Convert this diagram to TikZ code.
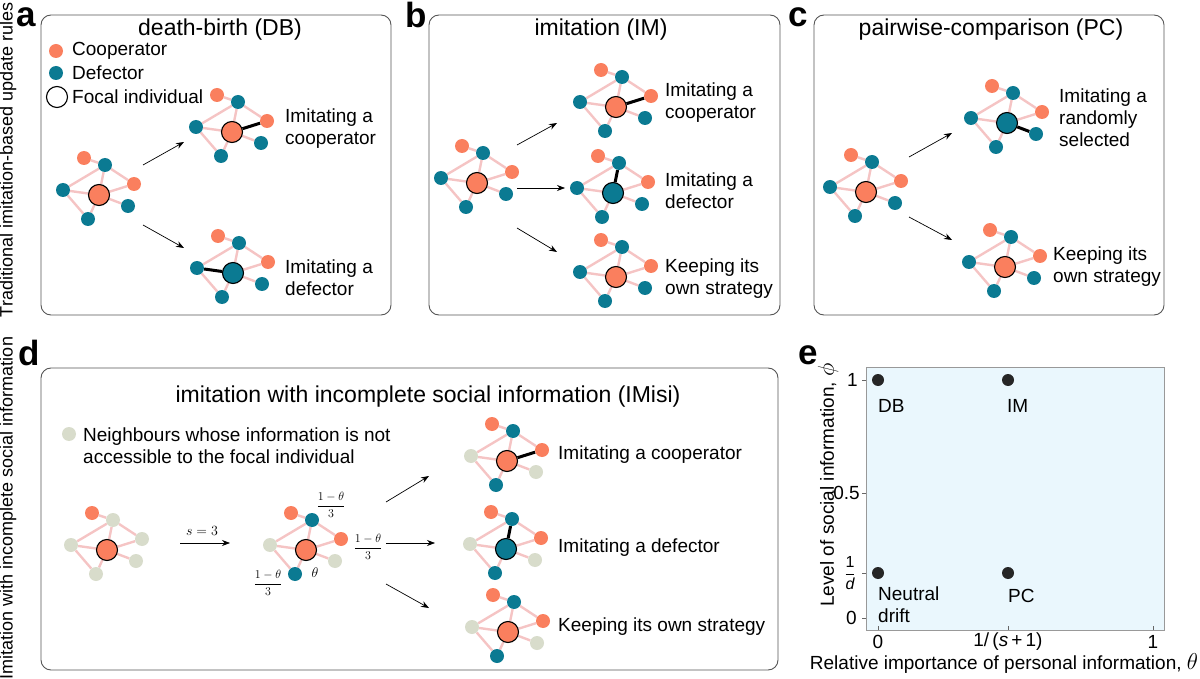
\RequirePackage{fix-cm}
\documentclass[tikz,border=0pt]{standalone}
\usepackage{fontspec}
\setmainfont{Liberation Sans}
\setsansfont{Liberation Sans}
\usetikzlibrary{arrows.meta}
\pgfdeclarelayer{background}
\pgfsetlayers{background,main}
\definecolor{coop}{HTML}{FA7F5E}
\definecolor{defe}{HTML}{0B7A92}
\definecolor{hidn}{HTML}{D8DCCB}
\definecolor{edgec}{HTML}{F5C4C4}
\definecolor{plotbg}{HTML}{EAF7FD}
\definecolor{framec}{HTML}{555555}
\tikzset{
 agent/.style={circle,inner sep=0pt,minimum size=14pt,fill=#1},
 focal/.style={circle,inner sep=0pt,minimum size=21pt,fill=#1,draw=black,line width=1.1pt},
 link/.style={draw=edgec,line width=2.4pt},
 boldlink/.style={draw=black,line width=3pt},
 panel/.style={draw=framec,line width=0.9pt,rounded corners=10pt},
 arr/.style={-{Stealth[length=8pt,width=6pt]},line width=0.7pt},
 lab/.style={font=\fontsize{19}{22}\selectfont,align=left,anchor=west,inner sep=0pt},
 ttl/.style={font=\fontsize{23}{27}\selectfont,inner sep=0pt},
 letter/.style={font=\fontsize{35}{40}\selectfont\bfseries,inner sep=0pt,anchor=base},
 side/.style={font=\fontsize{18}{22}\selectfont,rotate=90,inner sep=0pt},
 frac/.style={font=\fontsize{12}{14}\selectfont,inner sep=0pt},
 dot/.style={circle,inner sep=0pt,minimum size=12pt,fill=black!85},
 tick/.style={draw=black!60,line width=0.6pt},
}
\newcommand{\biggreek}[1]{{\fontsize{23}{23}\selectfont$#1$}}
% #1 prefix, #2 x, #3 y, #4 focal, #5 top, #6 right, #7 left, #8 lower right, #9 bottom
\newcommand{\netw}[9]{%
 \node[focal=#4] (#1f) at (#2,#3) {};
 \node[agent=coop] (#1p) at (#2-15,#3-37) {};
 \node[agent=#5] (#1t) at (#2+6,#3-30) {};
 \node[agent=#6] (#1r) at (#2+35,#3-11) {};
 \node[agent=#7] (#1l) at (#2-36,#3-5) {};
 \node[agent=#8] (#1s) at (#2+29,#3+11) {};
 \node[agent=#9] (#1b) at (#2-11,#3+24) {};
 \begin{pgfonlayer}{background}
 \draw[link] (#1p) -- (#1t);
 \draw[link] (#1t) -- (#1l);
 \draw[link] (#1t) -- (#1f);
 \draw[link] (#1t) -- (#1r);
 \draw[link] (#1l) -- (#1f);
 \draw[link] (#1l) -- (#1b);
 \draw[link] (#1f) -- (#1r);
 \draw[link] (#1f) -- (#1s);
 \draw[link] (#1f) -- (#1b);
 \end{pgfonlayer}}
\begin{document}
\begin{tikzpicture}[x=1pt,y=-1pt]
\useasboundingbox (0,0) rectangle (1200,679);

% side labels
\node[side] (sideA) at (8,160) {Traditional imitation-based update rules};
\node[side] (sideB) at (8,508) {Imitation with incomplete social information};

% panel frames
\draw[panel] (41,15) rectangle (391,315);
\draw[panel] (429,15) rectangle (780,315);
\draw[panel] (814,15) rectangle (1164,315);
\draw[panel] (41,368) rectangle (778,670);

% letters
\node[letter] (La) at (26,27) {a};
\node[letter] (Lb) at (416,28) {b};
\node[letter] (Lc) at (798,27) {c};
\node[letter] (Ld) at (29,365) {d};
\node[letter] (Le) at (808,364) {e};

% ---------------- panel a
\node[ttl] (ta) at (220,30) {death-birth (DB)};
\node[agent=coop] (lgc) at (56,51) {};
\node[lab] (lgct) at (72,51) {Cooperator};
\node[agent=defe] (lgd) at (56,73) {};
\node[lab] (lgdt) at (72,73) {Defector};
\node[focal=white] (lgf) at (57,97) {};
\node[lab] (lgft) at (72,97) {Focal individual};

\netw{aL}{99}{195}{coop}{defe}{coop}{defe}{defe}{defe}
\netw{aU}{232}{132}{coop}{defe}{coop}{defe}{defe}{defe}
\netw{aD}{233}{273}{defe}{defe}{coop}{defe}{defe}{defe}
\begin{pgfonlayer}{background}
\draw[boldlink] (aUf) -- (aUr);
\draw[boldlink] (aDf) -- (aDl);
\end{pgfonlayer}
\coordinate (a1s) at (143,165); \coordinate (a1e) at (184,142);
\coordinate (a2s) at (143,225); \coordinate (a2e) at (184,248);
\draw[arr] (a1s) -- (a1e);
\draw[arr] (a2s) -- (a2e);
\node[lab] (aUt) at (285,129) {Imitating a\\cooperator};
\node[lab] (aDt) at (285,278) {Imitating a\\defector};

% ---------------- panel b
\node[ttl] (tb) at (601,30) {imitation (IM)};
\netw{bL}{477}{183}{coop}{defe}{coop}{defe}{defe}{defe}
\netw{bU}{616}{107}{coop}{defe}{coop}{defe}{defe}{defe}
\netw{bM}{613}{193}{defe}{defe}{coop}{defe}{defe}{defe}
\netw{bD}{616}{277}{coop}{defe}{coop}{defe}{defe}{defe}
\begin{pgfonlayer}{background}
\draw[boldlink] (bUf) -- (bUr);
\draw[boldlink] (bMf) -- (bMt);
\end{pgfonlayer}
\coordinate (b1s) at (517,145); \coordinate (b1e) at (557,123);
\coordinate (b2s) at (517,188); \coordinate (b2e) at (565,188);
\coordinate (b3s) at (517,228); \coordinate (b3e) at (557,252);
\draw[arr] (b1s) -- (b1e);
\draw[arr] (b2s) -- (b2e);
\draw[arr] (b3s) -- (b3e);
\node[lab] (bUt) at (665,103) {Imitating a\\cooperator};
\node[lab] (bMt2) at (665,191) {Imitating a\\defector};
\node[lab] (bDt) at (665,279) {Keeping its\\own strategy};

% ---------------- panel c
\node[ttl] (tc) at (991,30) {pairwise-comparison (PC)};
\netw{cL}{866}{192}{coop}{defe}{coop}{defe}{defe}{defe}
\netw{cU}{1007}{123}{defe}{defe}{coop}{defe}{defe}{defe}
\netw{cD}{1005}{267}{coop}{defe}{coop}{defe}{defe}{defe}
\begin{pgfonlayer}{background}
\draw[boldlink] (cUf) -- (cUs);
\end{pgfonlayer}
\coordinate (c1s) at (909,157); \coordinate (c1e) at (952,133);
\coordinate (c2s) at (909,217); \coordinate (c2e) at (952,240);
\draw[arr] (c1s) -- (c1e);
\draw[arr] (c2s) -- (c2e);
\node[lab] (cUt) at (1059,118) {Imitating a\\randomly\\selected};
\node[lab] (cDt) at (1053,267) {Keeping its\\own strategy};

% ---------------- panel d
\node[ttl] (td) at (428,397) {imitation with incomplete social information (IMisi)};
\node[agent=hidn] (lgh) at (69,434) {};
\node[lab] (lght) at (83,446) {Neighbours whose information is not\\accessible to the focal individual};

\netw{dL}{107}{550}{coop}{hidn}{hidn}{hidn}{hidn}{hidn}
\netw{dM}{306}{550}{coop}{defe}{coop}{hidn}{hidn}{defe}
\netw{dU}{507}{461}{coop}{defe}{coop}{hidn}{hidn}{defe}
\netw{dC}{506}{549}{defe}{defe}{coop}{hidn}{hidn}{defe}
\netw{dD}{508}{632}{coop}{defe}{coop}{hidn}{hidn}{defe}
\begin{pgfonlayer}{background}
\draw[boldlink] (dUf) -- (dUr);
\draw[boldlink] (dCf) -- (dCt);
\end{pgfonlayer}
\coordinate (d0s) at (180,543); \coordinate (d0e) at (230,543);
\draw[arr] (d0s) -- (d0e);
\node[font=\fontsize{14}{16}\selectfont,inner sep=0pt] (sl) at (202,531) {$s=3$};
\node[frac] (fr1) at (331,505) {$\displaystyle\frac{1-\theta}{3}$};
\node[frac] (fr2) at (368,547) {$\displaystyle\frac{1-\theta}{3}$};
\node[frac] (fr3) at (268,583) {$\displaystyle\frac{1-\theta}{3}$};
\node[font=\fontsize{14}{16}\selectfont,inner sep=0pt] (th) at (315,573) {$\theta$};
\coordinate (d1s) at (386,502); \coordinate (d1e) at (429,476);
\coordinate (d2s) at (386,543); \coordinate (d2e) at (435,543);
\coordinate (d3s) at (386,584); \coordinate (d3e) at (429,608);
\draw[arr] (d1s) -- (d1e);
\draw[arr] (d2s) -- (d2e);
\draw[arr] (d3s) -- (d3e);
\node[lab] (dUt) at (558,455) {Imitating a cooperator};
\node[lab] (dCt2) at (558,548) {Imitating a defector};
\node[lab] (dDt) at (558,627) {Keeping its own strategy};

% ---------------- panel e
\fill[plotbg] (866,367) rectangle (1164,630);
\draw[draw=black!40,line width=0.8pt] (866,367) rectangle (1164,630);
\foreach \yy in {380,493,573,618} \draw[tick] (862,\yy) -- (866,\yy);
\foreach \xx in {878,1008,1153} \draw[tick] (\xx,630) -- (\xx,626);
\node[lab,anchor=east] (y1) at (858,380) {1};
\node[lab,anchor=east] (y05) at (860,493) {0.5};
\node[lab,anchor=east] (y0) at (857,618) {0};
\node[inner sep=0pt,font=\fontsize{16}{18}\selectfont] (yd) at (850,573) {$\displaystyle\frac{\mbox{1}}{\mbox{\itshape d}}$};
\node[lab,anchor=center] (x0) at (878,642) {0};
\node[lab,anchor=center] (xs) at (1008,642) {1/\,(\textit{s}\,+\,1)};
\node[lab,anchor=center] (x1) at (1153,642) {1};
\node[dot] (pDB) at (878,380) {};
\node[dot] (pIM) at (1008,380) {};
\node[dot] (pND) at (878,573) {};
\node[dot] (pPC) at (1008,573) {};
\node[lab] (tDB) at (878,406) {DB};
\node[lab] (tIM) at (1007,406) {IM};
\node[lab] (tND) at (878,605) {Neutral\\drift};
\node[lab] (tPC) at (1008,596) {PC};
\node[lab,anchor=center] (xt) at (1004,663) {Relative importance of personal information, \biggreek{\theta}};
\node[side,font=\fontsize{19}{22}\selectfont] (yt) at (828,485) {Level of social information, \biggreek{\phi}};
\end{tikzpicture}
\end{document}
